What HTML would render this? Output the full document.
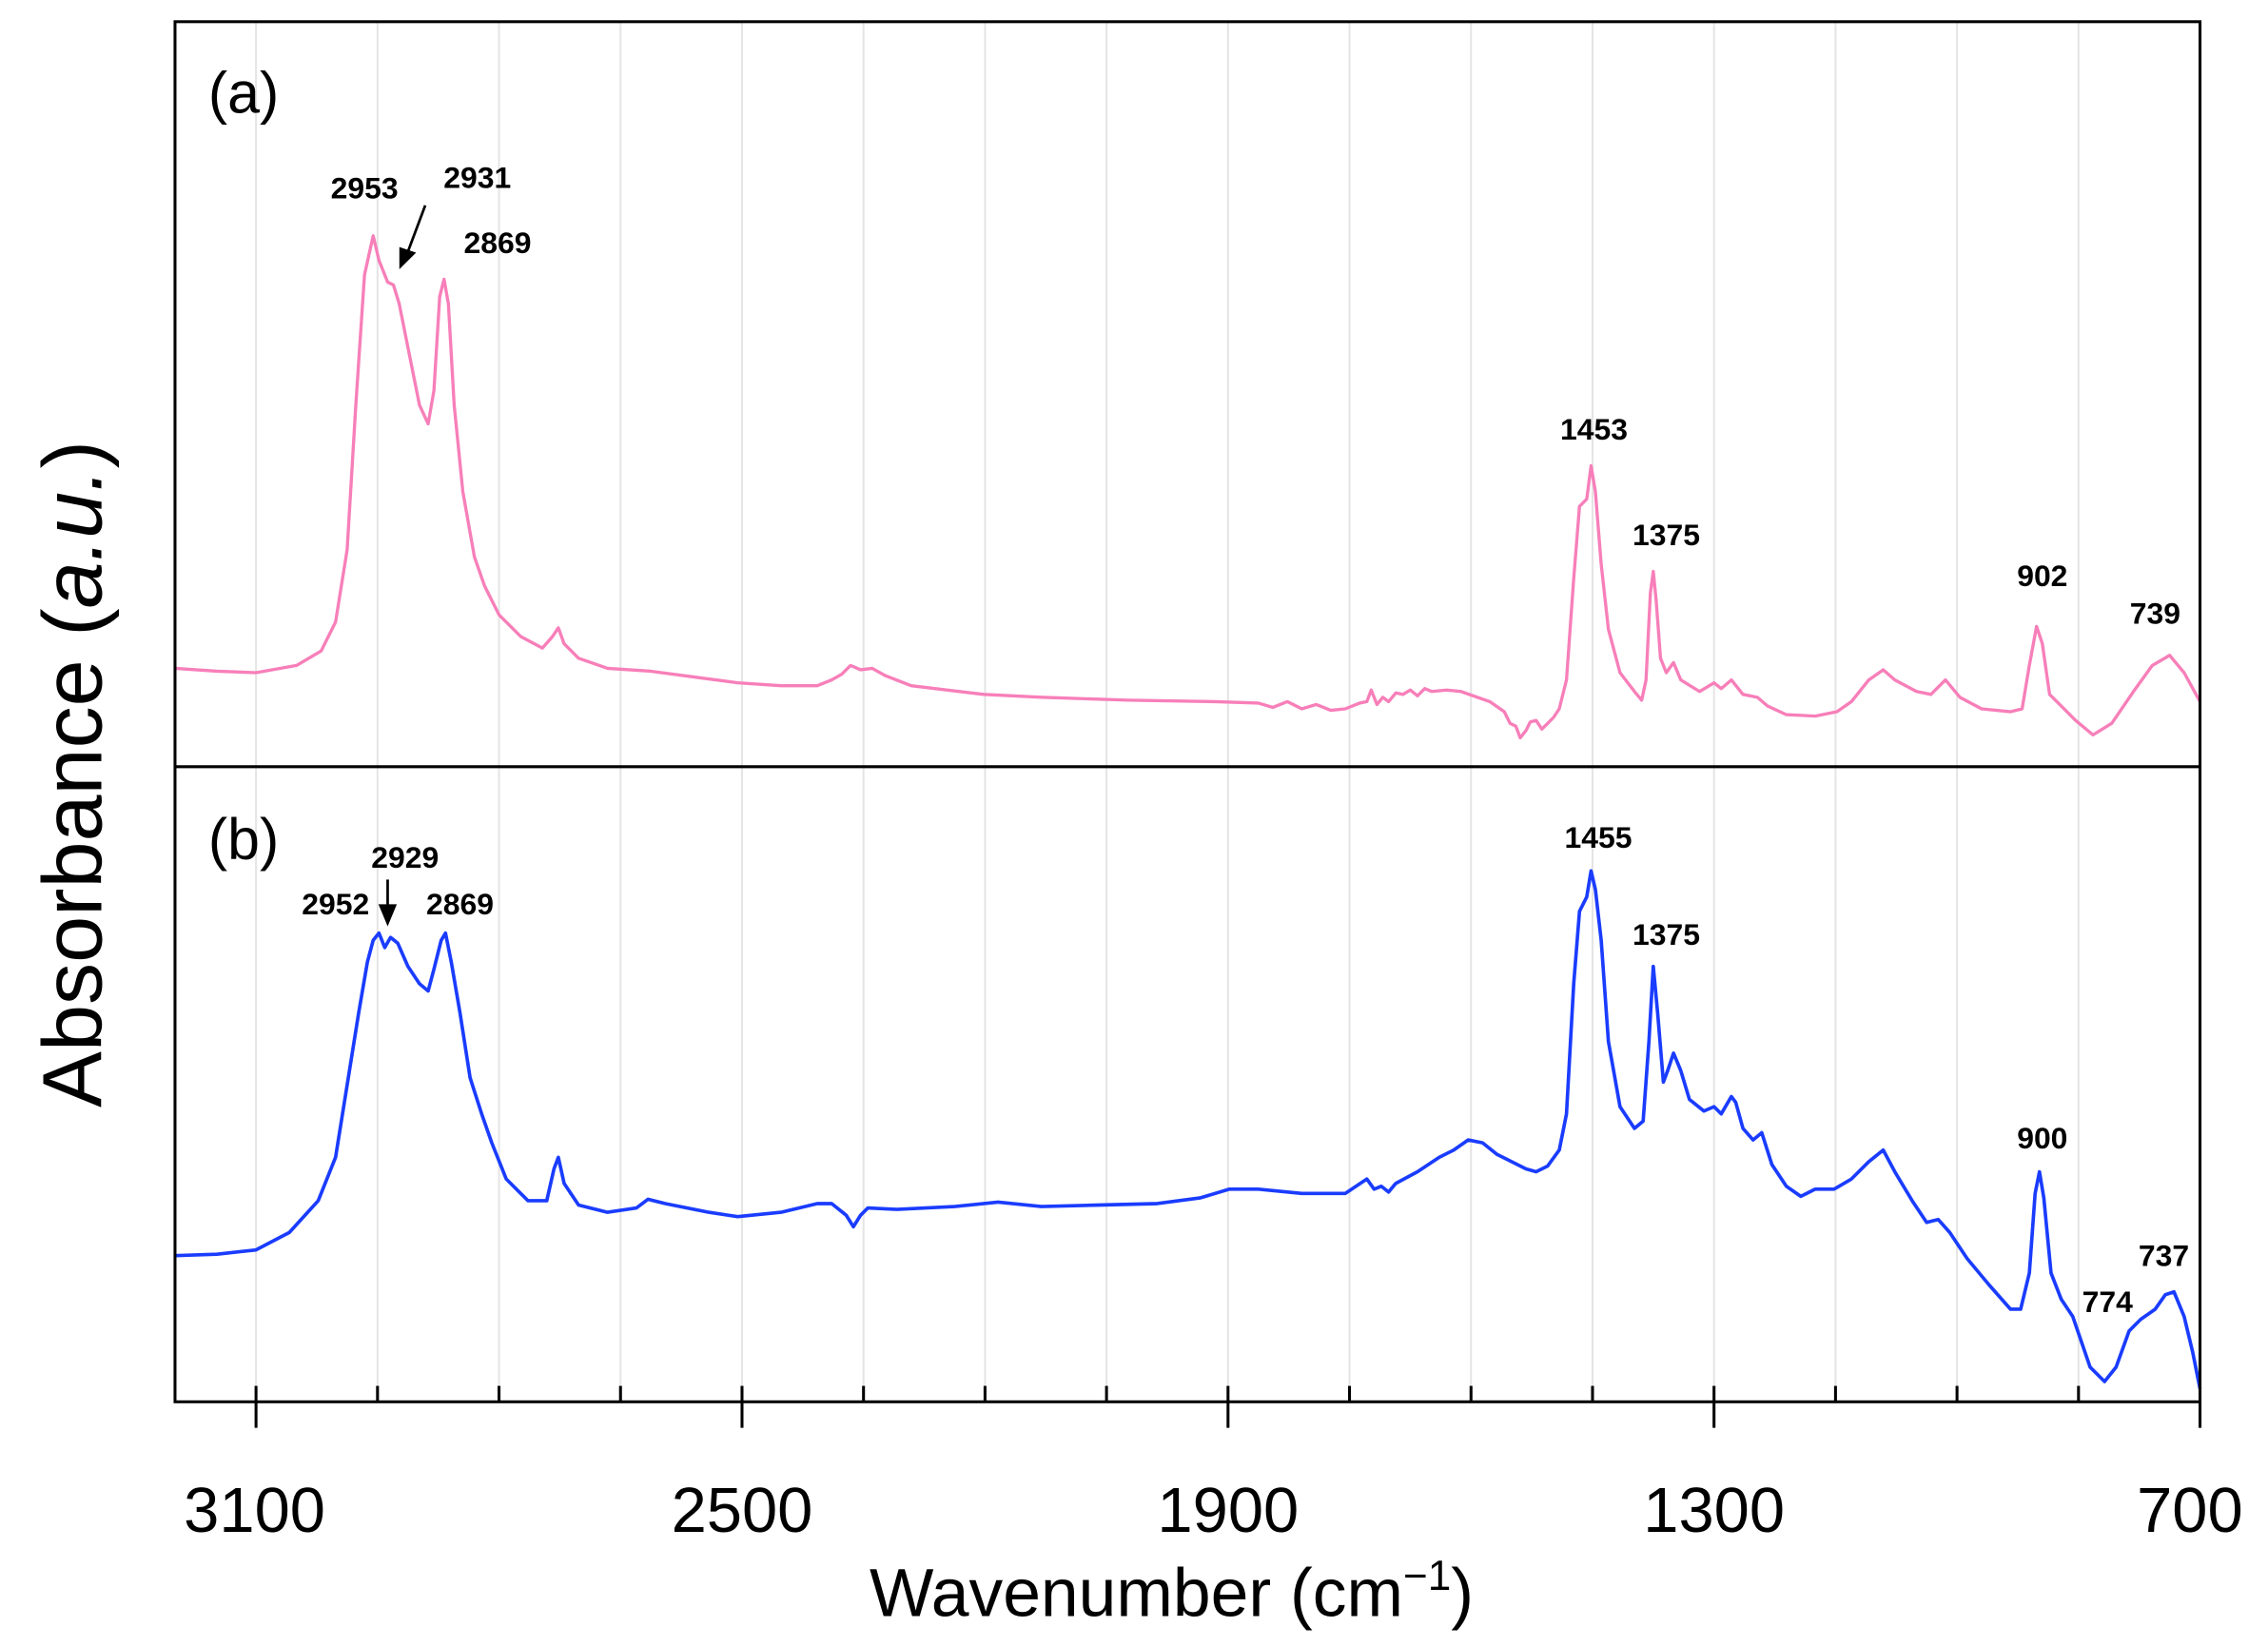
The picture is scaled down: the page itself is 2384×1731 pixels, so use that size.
<!DOCTYPE html>
<html><head><meta charset="utf-8"><style>html,body{margin:0;padding:0;background:#fff}svg{display:block}</style></head>
<body>
<svg width="2384" height="1731" viewBox="0 0 1568 1138.5" preserveAspectRatio="none" xmlns="http://www.w3.org/2000/svg" font-family="Liberation Sans, sans-serif">
<rect width="1568" height="1139" fill="#fff"/>
<g stroke="#e4e4e4" stroke-width="1.3">
<line x1="177" y1="15" x2="177" y2="969"/><line x1="261" y1="15" x2="261" y2="969"/><line x1="345" y1="15" x2="345" y2="969"/><line x1="429" y1="15" x2="429" y2="969"/><line x1="513" y1="15" x2="513" y2="969"/><line x1="597" y1="15" x2="597" y2="969"/><line x1="681" y1="15" x2="681" y2="969"/><line x1="765" y1="15" x2="765" y2="969"/><line x1="849" y1="15" x2="849" y2="969"/><line x1="933" y1="15" x2="933" y2="969"/><line x1="1017" y1="15" x2="1017" y2="969"/><line x1="1101" y1="15" x2="1101" y2="969"/><line x1="1185" y1="15" x2="1185" y2="969"/><line x1="1269" y1="15" x2="1269" y2="969"/><line x1="1353" y1="15" x2="1353" y2="969"/><line x1="1437" y1="15" x2="1437" y2="969"/>
</g>
<g stroke="#000" stroke-width="2">
<line x1="177" y1="958" x2="177" y2="987"/><line x1="261" y1="969" x2="261" y2="958"/><line x1="345" y1="969" x2="345" y2="958"/><line x1="429" y1="969" x2="429" y2="958"/><line x1="513" y1="958" x2="513" y2="987"/><line x1="597" y1="969" x2="597" y2="958"/><line x1="681" y1="969" x2="681" y2="958"/><line x1="765" y1="969" x2="765" y2="958"/><line x1="849" y1="958" x2="849" y2="987"/><line x1="933" y1="969" x2="933" y2="958"/><line x1="1017" y1="969" x2="1017" y2="958"/><line x1="1101" y1="969" x2="1101" y2="958"/><line x1="1185" y1="958" x2="1185" y2="987"/><line x1="1269" y1="969" x2="1269" y2="958"/><line x1="1353" y1="969" x2="1353" y2="958"/><line x1="1437" y1="969" x2="1437" y2="958"/><line x1="1521" y1="969" x2="1521" y2="987"/>
</g>
<polyline fill="none" stroke="#f77fb9" stroke-width="2.2" stroke-linejoin="round" points="121,462 150,464 177,465 205,460 222,450 232,430 240,380 246,280 252,190 258,163 262,180 266,190 268,195 272,197 276,210 282,240 290,280 296,293 300,270 304,205 307,193 310,210 314,280 320,340 328,385 335,405 345,425 360,440 375,448 382,440 386,434 390,445 400,455 420,462 450,464 480,468 510,472 540,474 565,474 575,470 582,466 588,460 595,463 603,462 612,467 630,474 680,480 720,482 780,484 840,485 870,486 880,489 890,485 900,490 910,487 920,491 930,490 940,486 945,485 948,477 952,487 956,482 960,485 965,479 970,480 975,477 980,481 985,476 990,478 1000,477 1010,478 1030,485 1040,492 1044,500 1048,502 1051,510 1055,505 1058,499 1062,498 1066,504 1070,500 1074,496 1078,490 1083,470 1088,400 1092,350 1097,345 1100,322 1103,340 1107,390 1112,435 1120,465 1130,478 1135,484 1138,470 1141,410 1143,395 1145,415 1148,455 1152,465 1157,458 1162,470 1175,478 1185,472 1190,476 1197,470 1205,480 1215,482 1222,488 1235,494 1255,495 1270,492 1280,485 1292,470 1302,463 1310,470 1325,478 1335,480 1345,470 1355,482 1370,490 1390,492 1398,490 1403,460 1408,433 1412,445 1417,480 1425,488 1435,498 1447,508 1460,500 1475,478 1488,460 1500,453 1510,465 1521,485"/>
<polyline fill="none" stroke="#1a3cff" stroke-width="2.4" stroke-linejoin="round" points="121,868 150,867 177,864 200,852 220,830 232,800 240,750 248,700 254,665 258,650 262,645 266,655 270,648 275,652 282,668 290,680 296,685 300,670 305,650 308,645 312,665 318,700 325,745 333,770 340,790 350,815 365,830 378,830 383,808 386,800 390,818 400,833 420,838 440,835 448,829 460,832 490,838 510,841 540,838 565,832 575,832 585,840 590,848 595,840 600,835 620,836 660,834 690,831 720,834 760,833 800,832 830,828 850,822 870,822 900,825 930,825 945,815 950,822 955,820 960,824 965,818 980,810 995,800 1005,795 1015,788 1025,790 1035,798 1045,803 1055,808 1062,810 1070,806 1078,795 1083,770 1088,680 1092,630 1097,620 1100,602 1103,615 1107,650 1112,720 1120,765 1130,780 1136,775 1140,720 1143,668 1146,700 1150,748 1153,740 1157,728 1162,740 1168,760 1178,768 1185,765 1190,770 1197,758 1200,762 1205,780 1212,788 1218,783 1225,805 1235,820 1245,827 1255,822 1268,822 1280,815 1292,803 1302,795 1310,810 1322,830 1332,845 1340,843 1348,852 1360,870 1375,888 1390,905 1397,905 1403,880 1407,825 1410,810 1413,828 1418,880 1425,898 1433,910 1445,945 1455,955 1463,945 1472,920 1480,912 1490,905 1497,895 1503,893 1510,910 1516,935 1521,960"/>
<rect x="121" y="15" width="1400" height="954" fill="none" stroke="#000" stroke-width="2"/>
<line x1="121" y1="530" x2="1521" y2="530" stroke="#000" stroke-width="2"/>
<g font-size="40" fill="#000"><text x="144" y="78">(a)</text><text x="144" y="594">(b)</text></g>
<g font-size="21" font-weight="bold" fill="#000" text-anchor="middle">
<text x="252" y="137">2953</text><text x="330" y="130">2931</text><text x="344" y="175">2869</text>
<text x="1102" y="304">1453</text><text x="1152" y="377">1375</text><text x="1412" y="405">902</text><text x="1490" y="431">739</text>
<text x="232" y="632">2952</text><text x="280" y="600">2929</text><text x="318" y="632">2869</text>
<text x="1105" y="586">1455</text><text x="1152" y="653">1375</text><text x="1412" y="794">900</text><text x="1457" y="907">774</text><text x="1496" y="875">737</text>
</g>
<g stroke="#000" stroke-width="1.8" fill="#000">
<line x1="294" y1="142" x2="282" y2="174"/><polygon points="277,184 277,172 286,175"/>
<line x1="268" y1="608" x2="268" y2="628"/><polygon points="268,638 263,626 273,626"/>
</g>
<g font-size="44" fill="#000" text-anchor="middle">
<text x="176" y="1059">3100</text><text x="513" y="1059">2500</text><text x="849" y="1059">1900</text><text x="1185" y="1059">1300</text><text x="1514" y="1059">700</text>
</g>
<text x="810" y="1117" font-size="47" text-anchor="middle">Wavenumber (cm<tspan font-size="29" dy="-18">−1</tspan><tspan dy="18">)</tspan></text>
<text transform="translate(70,535) rotate(-90)" font-size="58" text-anchor="middle">Absorbance (<tspan font-style="italic">a.u.</tspan>)</text>
</svg>
</body></html>
